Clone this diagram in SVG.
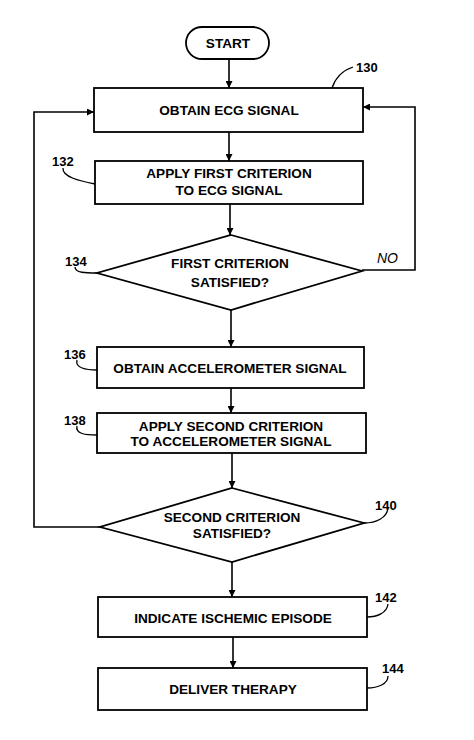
<svg xmlns="http://www.w3.org/2000/svg" width="474" height="740" viewBox="0 0 474 740">
<defs>
<marker id="ah" viewBox="0 0 10 10" refX="10" refY="5" markerWidth="7" markerHeight="7" markerUnits="userSpaceOnUse" orient="auto">
<path d="M0,0 L10,5 L0,10 z" fill="#000"/>
</marker>
<style>
.box{fill:#fff;stroke:#000;stroke-width:1.8}
.t{font-family:"Liberation Sans",Arial,sans-serif;font-weight:bold;font-size:13.6px;text-anchor:middle;fill:#000}
.ref{font-family:"Liberation Sans",Arial,sans-serif;font-weight:bold;font-size:13px;fill:#000}
.lead{fill:none;stroke:#000;stroke-width:1.3}
.c{fill:none;stroke:#000;stroke-width:1.6}
</style>
</defs>
<rect width="474" height="740" fill="#fff"/>
<g id="connectors">
<path class="c" d="M229,59 L229,88" marker-end="url(#ah)"/>
<path class="c" d="M229,132 L229,161" marker-end="url(#ah)"/>
<path class="c" d="M230,204 L230,235" marker-end="url(#ah)"/>
<path class="c" d="M231,310 L231,347" marker-end="url(#ah)"/>
<path class="c" d="M231,388 L231,413" marker-end="url(#ah)"/>
<path class="c" d="M232,453 L232,488" marker-end="url(#ah)"/>
<path class="c" d="M232,562 L232,597" marker-end="url(#ah)"/>
<path class="c" d="M233,637 L233,668" marker-end="url(#ah)"/>
<path class="c" d="M362,270 L415,270 L415,107 L363,107" marker-end="url(#ah)"/>
<path class="c" d="M100,527 L34,527 L34,112 L94,112" marker-end="url(#ah)"/>
<text x="377" y="263" style="font-family:'Liberation Sans',sans-serif;font-style:italic;font-size:14px;fill:#000">NO</text>
</g>
<g id="start">
<rect class="box" x="186" y="27" width="83" height="32" rx="16"/>
<text class="t" x="228" y="48">START</text>
</g>
<g id="n130">
<rect class="box" x="94" y="88" width="269" height="44"/>
<text class="t" x="229" y="115">OBTAIN ECG SIGNAL</text>
<path class="lead" d="M332,88 C336,76 344,70 353,67"/>
<text class="ref" x="356" y="72">130</text>
</g>
<g id="n132">
<rect class="box" x="95" y="161" width="268" height="43"/>
<text class="t" x="229" y="178">APPLY FIRST CRITERION</text>
<text class="t" x="229" y="195">TO ECG SIGNAL</text>
<path class="lead" d="M63,168 C62,177 80,181 95,184"/>
<text class="ref" x="52" y="166">132</text>
</g>
<g id="n134">
<polygon class="box" points="231,235 362,271 231,310 97,273"/>
<text class="t" x="230" y="268">FIRST CRITERION</text>
<text class="t" x="230" y="287">SATISFIED?</text>
<path class="lead" d="M75,267 C75,273 86,273 97,273"/>
<text class="ref" x="65" y="266">134</text>
</g>
<g id="n136">
<rect class="box" x="97" y="347" width="267" height="41"/>
<text class="t" x="230" y="373">OBTAIN ACCELEROMETER SIGNAL</text>
<path class="lead" d="M77,360 C75,368 86,370 97,370"/>
<text class="ref" x="64" y="359">136</text>
</g>
<g id="n138">
<rect class="box" x="97" y="413" width="269" height="40"/>
<text class="t" x="231" y="431">APPLY SECOND CRITERION</text>
<text class="t" x="231" y="446">TO ACCELEROMETER SIGNAL</text>
<path class="lead" d="M77,426 C75,434 86,435 97,435"/>
<text class="ref" x="64" y="425">138</text>
</g>
<g id="n140">
<polygon class="box" points="232,488 364,523 232,562 100,527"/>
<text class="t" x="232" y="522">SECOND CRITERION</text>
<text class="t" x="232" y="538">SATISFIED?</text>
<path class="lead" d="M388,508 C387,518 376,523 364,523"/>
<text class="ref" x="375" y="510">140</text>
</g>
<g id="n142">
<rect class="box" x="98" y="597" width="269" height="40"/>
<text class="t" x="233" y="623">INDICATE ISCHEMIC EPISODE</text>
<path class="lead" d="M388,604 C387,613 377,617 367,617"/>
<text class="ref" x="375" y="602">142</text>
</g>
<g id="n144">
<rect class="box" x="98" y="668" width="269" height="42"/>
<text class="t" x="233" y="694">DELIVER THERAPY</text>
<path class="lead" d="M388,676 C388,684 378,688 367,688"/>
<text class="ref" x="382" y="673">144</text>
</g>
</svg>
